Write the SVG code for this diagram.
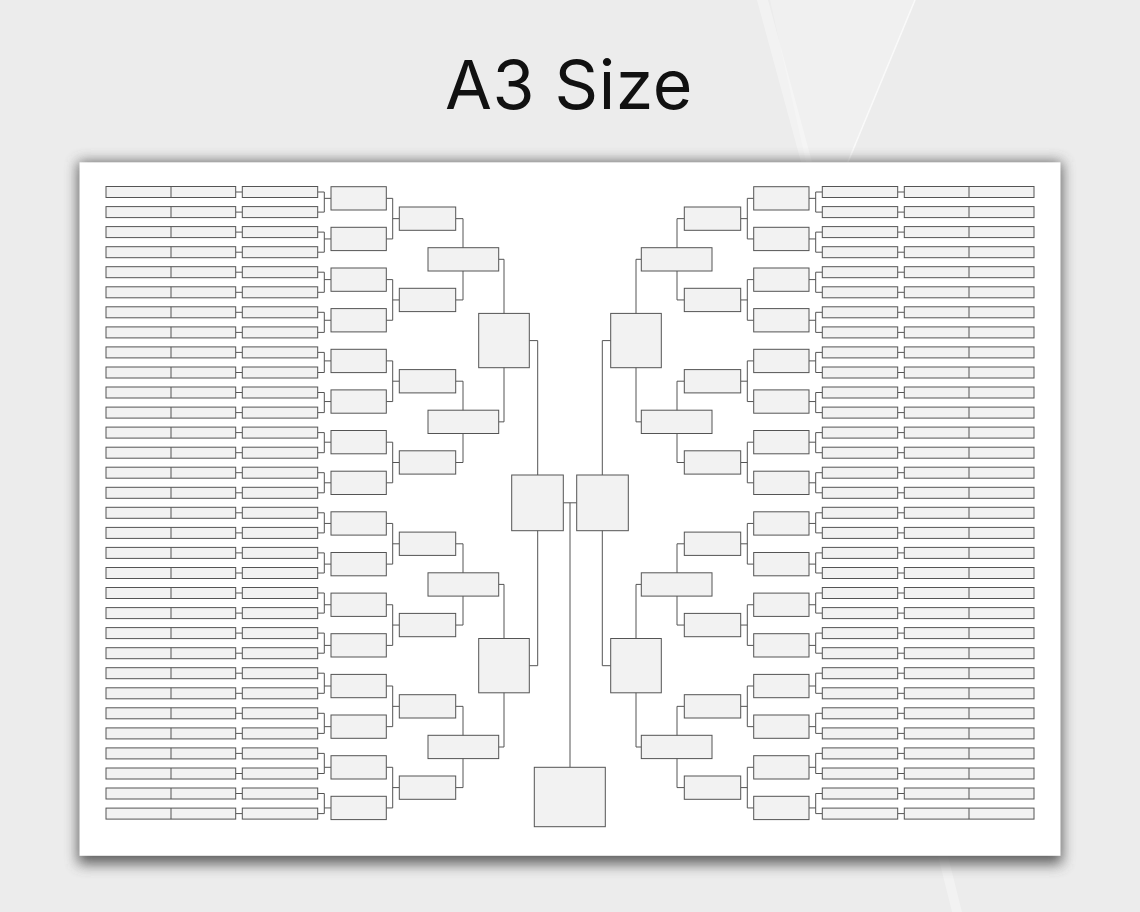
<svg xmlns="http://www.w3.org/2000/svg" width="1140" height="912" viewBox="0 0 1140 912">
<style>
.b{fill:#f2f2f2;stroke:#545454;stroke-width:1}
.c{fill:none;stroke:#545454;stroke-width:1}
.title{font-family:Inter,"Liberation Sans",sans-serif;font-size:68px;fill:#111;letter-spacing:0.5px}
</style>
<defs>
<filter id="sh" x="-10%" y="-10%" width="120%" height="125%"><feGaussianBlur stdDeviation="7"/></filter>
</defs>
<rect x="0" y="0" width="1140" height="912" fill="#ececec"/>
<polygon points="770,0 915,0 848,162 806,162" fill="#ffffff" opacity="0.22"/>
<polygon points="757,0 768,0 812,162 801,162" fill="#ffffff" opacity="0.35"/>
<line x1="915" y1="0" x2="848" y2="162" stroke="#ffffff" stroke-width="1.5" opacity="0.7"/>
<polygon points="938,856 948,856 962,912 952,912" fill="#ffffff" opacity="0.3"/>
<text class="title" x="569" y="109" text-anchor="middle">A3 Size</text>
<rect x="78" y="162" width="984" height="702" fill="#505050" opacity="0.9" filter="url(#sh)"/>
<rect x="79.5" y="162.3" width="981" height="693.5" fill="#ffffff"/>
<g id="connectors">
<path class="c" d="M235.7 192H242.3M235.7 212.1H242.3M235.7 232.1H242.3M235.7 252.2H242.3M235.7 272.2H242.3M235.7 292.3H242.3M235.7 312.3H242.3M235.7 332.4H242.3M235.7 352.4H242.3M235.7 372.5H242.3M235.7 392.5H242.3M235.7 412.6H242.3M235.7 432.6H242.3M235.7 452.7H242.3M235.7 472.7H242.3M235.7 492.8H242.3M235.7 512.8H242.3M235.7 532.9H242.3M235.7 552.9H242.3M235.7 573H242.3M235.7 593H242.3M235.7 613.1H242.3M235.7 633.1H242.3M235.7 653.2H242.3M235.7 673.2H242.3M235.7 693.3H242.3M235.7 713.3H242.3M235.7 733.4H242.3M235.7 753.4H242.3M235.7 773.5H242.3M235.7 793.5H242.3M235.7 813.6H242.3"/>
<path class="c" d="M897.7 192H904.3M897.7 212.1H904.3M897.7 232.1H904.3M897.7 252.2H904.3M897.7 272.2H904.3M897.7 292.3H904.3M897.7 312.3H904.3M897.7 332.4H904.3M897.7 352.4H904.3M897.7 372.5H904.3M897.7 392.5H904.3M897.7 412.6H904.3M897.7 432.6H904.3M897.7 452.7H904.3M897.7 472.7H904.3M897.7 492.8H904.3M897.7 512.8H904.3M897.7 532.9H904.3M897.7 552.9H904.3M897.7 573H904.3M897.7 593H904.3M897.7 613.1H904.3M897.7 633.1H904.3M897.7 653.2H904.3M897.7 673.2H904.3M897.7 693.3H904.3M897.7 713.3H904.3M897.7 733.4H904.3M897.7 753.4H904.3M897.7 773.5H904.3M897.7 793.5H904.3M897.7 813.6H904.3"/>
<path class="c" d="M317.7 192H324.3V212.1H317.7M324.3 198.35H331M317.7 232.1H324.3V252.2H317.7M324.3 238.95H331M317.7 272.2H324.3V292.3H317.7M324.3 279.6H331M317.7 312.3H324.3V332.4H317.7M324.3 320.25H331M317.7 352.4H324.3V372.5H317.7M324.3 360.9H331M317.7 392.5H324.3V412.6H317.7M324.3 401.55H331M317.7 432.6H324.3V452.7H317.7M324.3 442.2H331M317.7 472.7H324.3V492.8H317.7M324.3 482.8H331M317.7 512.8H324.3V532.9H317.7M324.3 523.45H331M317.7 552.9H324.3V573H317.7M324.3 564.1H331M317.7 593H324.3V613.1H317.7M324.3 604.75H331M317.7 633.1H324.3V653.2H317.7M324.3 645.4H331M317.7 673.2H324.3V693.3H317.7M324.3 686H331M317.7 713.3H324.3V733.4H317.7M324.3 726.65H331M317.7 753.4H324.3V773.5H317.7M324.3 767.3H331M317.7 793.5H324.3V813.6H317.7M324.3 807.95H331"/>
<path class="c" d="M822.3 192H815.7V212.1H822.3M815.7 198.35H809M822.3 232.1H815.7V252.2H822.3M815.7 238.95H809M822.3 272.2H815.7V292.3H822.3M815.7 279.6H809M822.3 312.3H815.7V332.4H822.3M815.7 320.25H809M822.3 352.4H815.7V372.5H822.3M815.7 360.9H809M822.3 392.5H815.7V412.6H822.3M815.7 401.55H809M822.3 432.6H815.7V452.7H822.3M815.7 442.2H809M822.3 472.7H815.7V492.8H822.3M815.7 482.8H809M822.3 512.8H815.7V532.9H822.3M815.7 523.45H809M822.3 552.9H815.7V573H822.3M815.7 564.1H809M822.3 593H815.7V613.1H822.3M815.7 604.75H809M822.3 633.1H815.7V653.2H822.3M815.7 645.4H809M822.3 673.2H815.7V693.3H822.3M815.7 686H809M822.3 713.3H815.7V733.4H822.3M815.7 726.65H809M822.3 753.4H815.7V773.5H822.3M815.7 767.3H809M822.3 793.5H815.7V813.6H822.3M815.7 807.95H809"/>
<path class="c" d="M386.3 198.35H392.7V238.95H386.3M392.7 218.65H399.3M386.3 279.6H392.7V320.25H386.3M392.7 299.95H399.3M386.3 360.9H392.7V401.55H386.3M392.7 381.2H399.3M386.3 442.2H392.7V482.8H386.3M392.7 462.5H399.3M386.3 523.45H392.7V564.1H386.3M392.7 543.8H399.3M386.3 604.75H392.7V645.4H386.3M392.7 625.05H399.3M386.3 686H392.7V726.65H386.3M392.7 706.35H399.3M386.3 767.3H392.7V807.95H386.3M392.7 787.6H399.3"/>
<path class="c" d="M753.7 198.35H747.3V238.95H753.7M747.3 218.65H740.7M753.7 279.6H747.3V320.25H753.7M747.3 299.95H740.7M753.7 360.9H747.3V401.55H753.7M747.3 381.2H740.7M753.7 442.2H747.3V482.8H753.7M747.3 462.5H740.7M753.7 523.45H747.3V564.1H753.7M747.3 543.8H740.7M753.7 604.75H747.3V645.4H753.7M747.3 625.05H740.7M753.7 686H747.3V726.65H753.7M747.3 706.35H740.7M753.7 767.3H747.3V807.95H753.7M747.3 787.6H740.7"/>
<path class="c" d="M455.7 218.65H463V299.95H455.7M455.7 381.2H463V462.5H455.7M455.7 543.8H463V625.05H455.7M455.7 706.35H463V787.6H455.7"/>
<path class="c" d="M684.3 218.65H677V299.95H684.3M684.3 381.2H677V462.5H684.3M684.3 543.8H677V625.05H684.3M684.3 706.35H677V787.6H684.3"/>
<path class="c" d="M498.7 259.3H504V421.85H498.7M498.7 584.4H504V747H498.7"/>
<path class="c" d="M641.3 259.3H636V421.85H641.3M641.3 584.4H636V747H641.3"/>
<path class="c" d="M529.3 340.6H537.7V665.7H529.3"/>
<path class="c" d="M610.7 340.6H602.3V665.7H610.7"/>
<path class="c" d="M563.3 502.8H576.7M570 502.8V767.3"/>
</g>
<g id="left-r1">
<g id="L1-0"><rect class="b" x="106" y="186.5" width="129.7" height="11"/><path class="c" d="M171 186.5v11"/></g>
<g id="L1-1"><rect class="b" x="106" y="206.6" width="129.7" height="11"/><path class="c" d="M171 206.6v11"/></g>
<g id="L1-2"><rect class="b" x="106" y="226.6" width="129.7" height="11"/><path class="c" d="M171 226.6v11"/></g>
<g id="L1-3"><rect class="b" x="106" y="246.7" width="129.7" height="11"/><path class="c" d="M171 246.7v11"/></g>
<g id="L1-4"><rect class="b" x="106" y="266.7" width="129.7" height="11"/><path class="c" d="M171 266.7v11"/></g>
<g id="L1-5"><rect class="b" x="106" y="286.8" width="129.7" height="11"/><path class="c" d="M171 286.8v11"/></g>
<g id="L1-6"><rect class="b" x="106" y="306.8" width="129.7" height="11"/><path class="c" d="M171 306.8v11"/></g>
<g id="L1-7"><rect class="b" x="106" y="326.9" width="129.7" height="11"/><path class="c" d="M171 326.9v11"/></g>
<g id="L1-8"><rect class="b" x="106" y="346.9" width="129.7" height="11"/><path class="c" d="M171 346.9v11"/></g>
<g id="L1-9"><rect class="b" x="106" y="367" width="129.7" height="11"/><path class="c" d="M171 367v11"/></g>
<g id="L1-10"><rect class="b" x="106" y="387" width="129.7" height="11"/><path class="c" d="M171 387v11"/></g>
<g id="L1-11"><rect class="b" x="106" y="407.1" width="129.7" height="11"/><path class="c" d="M171 407.1v11"/></g>
<g id="L1-12"><rect class="b" x="106" y="427.1" width="129.7" height="11"/><path class="c" d="M171 427.1v11"/></g>
<g id="L1-13"><rect class="b" x="106" y="447.2" width="129.7" height="11"/><path class="c" d="M171 447.2v11"/></g>
<g id="L1-14"><rect class="b" x="106" y="467.2" width="129.7" height="11"/><path class="c" d="M171 467.2v11"/></g>
<g id="L1-15"><rect class="b" x="106" y="487.3" width="129.7" height="11"/><path class="c" d="M171 487.3v11"/></g>
<g id="L1-16"><rect class="b" x="106" y="507.3" width="129.7" height="11"/><path class="c" d="M171 507.3v11"/></g>
<g id="L1-17"><rect class="b" x="106" y="527.4" width="129.7" height="11"/><path class="c" d="M171 527.4v11"/></g>
<g id="L1-18"><rect class="b" x="106" y="547.4" width="129.7" height="11"/><path class="c" d="M171 547.4v11"/></g>
<g id="L1-19"><rect class="b" x="106" y="567.5" width="129.7" height="11"/><path class="c" d="M171 567.5v11"/></g>
<g id="L1-20"><rect class="b" x="106" y="587.5" width="129.7" height="11"/><path class="c" d="M171 587.5v11"/></g>
<g id="L1-21"><rect class="b" x="106" y="607.6" width="129.7" height="11"/><path class="c" d="M171 607.6v11"/></g>
<g id="L1-22"><rect class="b" x="106" y="627.6" width="129.7" height="11"/><path class="c" d="M171 627.6v11"/></g>
<g id="L1-23"><rect class="b" x="106" y="647.7" width="129.7" height="11"/><path class="c" d="M171 647.7v11"/></g>
<g id="L1-24"><rect class="b" x="106" y="667.7" width="129.7" height="11"/><path class="c" d="M171 667.7v11"/></g>
<g id="L1-25"><rect class="b" x="106" y="687.8" width="129.7" height="11"/><path class="c" d="M171 687.8v11"/></g>
<g id="L1-26"><rect class="b" x="106" y="707.8" width="129.7" height="11"/><path class="c" d="M171 707.8v11"/></g>
<g id="L1-27"><rect class="b" x="106" y="727.9" width="129.7" height="11"/><path class="c" d="M171 727.9v11"/></g>
<g id="L1-28"><rect class="b" x="106" y="747.9" width="129.7" height="11"/><path class="c" d="M171 747.9v11"/></g>
<g id="L1-29"><rect class="b" x="106" y="768" width="129.7" height="11"/><path class="c" d="M171 768v11"/></g>
<g id="L1-30"><rect class="b" x="106" y="788" width="129.7" height="11"/><path class="c" d="M171 788v11"/></g>
<g id="L1-31"><rect class="b" x="106" y="808.1" width="129.7" height="11"/><path class="c" d="M171 808.1v11"/></g>
</g>
<g id="left-r2">
<g id="L2-0"><rect class="b" x="242.3" y="186.5" width="75.4" height="11"/></g>
<g id="L2-1"><rect class="b" x="242.3" y="206.6" width="75.4" height="11"/></g>
<g id="L2-2"><rect class="b" x="242.3" y="226.6" width="75.4" height="11"/></g>
<g id="L2-3"><rect class="b" x="242.3" y="246.7" width="75.4" height="11"/></g>
<g id="L2-4"><rect class="b" x="242.3" y="266.7" width="75.4" height="11"/></g>
<g id="L2-5"><rect class="b" x="242.3" y="286.8" width="75.4" height="11"/></g>
<g id="L2-6"><rect class="b" x="242.3" y="306.8" width="75.4" height="11"/></g>
<g id="L2-7"><rect class="b" x="242.3" y="326.9" width="75.4" height="11"/></g>
<g id="L2-8"><rect class="b" x="242.3" y="346.9" width="75.4" height="11"/></g>
<g id="L2-9"><rect class="b" x="242.3" y="367" width="75.4" height="11"/></g>
<g id="L2-10"><rect class="b" x="242.3" y="387" width="75.4" height="11"/></g>
<g id="L2-11"><rect class="b" x="242.3" y="407.1" width="75.4" height="11"/></g>
<g id="L2-12"><rect class="b" x="242.3" y="427.1" width="75.4" height="11"/></g>
<g id="L2-13"><rect class="b" x="242.3" y="447.2" width="75.4" height="11"/></g>
<g id="L2-14"><rect class="b" x="242.3" y="467.2" width="75.4" height="11"/></g>
<g id="L2-15"><rect class="b" x="242.3" y="487.3" width="75.4" height="11"/></g>
<g id="L2-16"><rect class="b" x="242.3" y="507.3" width="75.4" height="11"/></g>
<g id="L2-17"><rect class="b" x="242.3" y="527.4" width="75.4" height="11"/></g>
<g id="L2-18"><rect class="b" x="242.3" y="547.4" width="75.4" height="11"/></g>
<g id="L2-19"><rect class="b" x="242.3" y="567.5" width="75.4" height="11"/></g>
<g id="L2-20"><rect class="b" x="242.3" y="587.5" width="75.4" height="11"/></g>
<g id="L2-21"><rect class="b" x="242.3" y="607.6" width="75.4" height="11"/></g>
<g id="L2-22"><rect class="b" x="242.3" y="627.6" width="75.4" height="11"/></g>
<g id="L2-23"><rect class="b" x="242.3" y="647.7" width="75.4" height="11"/></g>
<g id="L2-24"><rect class="b" x="242.3" y="667.7" width="75.4" height="11"/></g>
<g id="L2-25"><rect class="b" x="242.3" y="687.8" width="75.4" height="11"/></g>
<g id="L2-26"><rect class="b" x="242.3" y="707.8" width="75.4" height="11"/></g>
<g id="L2-27"><rect class="b" x="242.3" y="727.9" width="75.4" height="11"/></g>
<g id="L2-28"><rect class="b" x="242.3" y="747.9" width="75.4" height="11"/></g>
<g id="L2-29"><rect class="b" x="242.3" y="768" width="75.4" height="11"/></g>
<g id="L2-30"><rect class="b" x="242.3" y="788" width="75.4" height="11"/></g>
<g id="L2-31"><rect class="b" x="242.3" y="808.1" width="75.4" height="11"/></g>
</g>
<g id="right-r1">
<g id="R1-0"><rect class="b" x="904.3" y="186.5" width="129.7" height="11"/><path class="c" d="M969 186.5v11"/></g>
<g id="R1-1"><rect class="b" x="904.3" y="206.6" width="129.7" height="11"/><path class="c" d="M969 206.6v11"/></g>
<g id="R1-2"><rect class="b" x="904.3" y="226.6" width="129.7" height="11"/><path class="c" d="M969 226.6v11"/></g>
<g id="R1-3"><rect class="b" x="904.3" y="246.7" width="129.7" height="11"/><path class="c" d="M969 246.7v11"/></g>
<g id="R1-4"><rect class="b" x="904.3" y="266.7" width="129.7" height="11"/><path class="c" d="M969 266.7v11"/></g>
<g id="R1-5"><rect class="b" x="904.3" y="286.8" width="129.7" height="11"/><path class="c" d="M969 286.8v11"/></g>
<g id="R1-6"><rect class="b" x="904.3" y="306.8" width="129.7" height="11"/><path class="c" d="M969 306.8v11"/></g>
<g id="R1-7"><rect class="b" x="904.3" y="326.9" width="129.7" height="11"/><path class="c" d="M969 326.9v11"/></g>
<g id="R1-8"><rect class="b" x="904.3" y="346.9" width="129.7" height="11"/><path class="c" d="M969 346.9v11"/></g>
<g id="R1-9"><rect class="b" x="904.3" y="367" width="129.7" height="11"/><path class="c" d="M969 367v11"/></g>
<g id="R1-10"><rect class="b" x="904.3" y="387" width="129.7" height="11"/><path class="c" d="M969 387v11"/></g>
<g id="R1-11"><rect class="b" x="904.3" y="407.1" width="129.7" height="11"/><path class="c" d="M969 407.1v11"/></g>
<g id="R1-12"><rect class="b" x="904.3" y="427.1" width="129.7" height="11"/><path class="c" d="M969 427.1v11"/></g>
<g id="R1-13"><rect class="b" x="904.3" y="447.2" width="129.7" height="11"/><path class="c" d="M969 447.2v11"/></g>
<g id="R1-14"><rect class="b" x="904.3" y="467.2" width="129.7" height="11"/><path class="c" d="M969 467.2v11"/></g>
<g id="R1-15"><rect class="b" x="904.3" y="487.3" width="129.7" height="11"/><path class="c" d="M969 487.3v11"/></g>
<g id="R1-16"><rect class="b" x="904.3" y="507.3" width="129.7" height="11"/><path class="c" d="M969 507.3v11"/></g>
<g id="R1-17"><rect class="b" x="904.3" y="527.4" width="129.7" height="11"/><path class="c" d="M969 527.4v11"/></g>
<g id="R1-18"><rect class="b" x="904.3" y="547.4" width="129.7" height="11"/><path class="c" d="M969 547.4v11"/></g>
<g id="R1-19"><rect class="b" x="904.3" y="567.5" width="129.7" height="11"/><path class="c" d="M969 567.5v11"/></g>
<g id="R1-20"><rect class="b" x="904.3" y="587.5" width="129.7" height="11"/><path class="c" d="M969 587.5v11"/></g>
<g id="R1-21"><rect class="b" x="904.3" y="607.6" width="129.7" height="11"/><path class="c" d="M969 607.6v11"/></g>
<g id="R1-22"><rect class="b" x="904.3" y="627.6" width="129.7" height="11"/><path class="c" d="M969 627.6v11"/></g>
<g id="R1-23"><rect class="b" x="904.3" y="647.7" width="129.7" height="11"/><path class="c" d="M969 647.7v11"/></g>
<g id="R1-24"><rect class="b" x="904.3" y="667.7" width="129.7" height="11"/><path class="c" d="M969 667.7v11"/></g>
<g id="R1-25"><rect class="b" x="904.3" y="687.8" width="129.7" height="11"/><path class="c" d="M969 687.8v11"/></g>
<g id="R1-26"><rect class="b" x="904.3" y="707.8" width="129.7" height="11"/><path class="c" d="M969 707.8v11"/></g>
<g id="R1-27"><rect class="b" x="904.3" y="727.9" width="129.7" height="11"/><path class="c" d="M969 727.9v11"/></g>
<g id="R1-28"><rect class="b" x="904.3" y="747.9" width="129.7" height="11"/><path class="c" d="M969 747.9v11"/></g>
<g id="R1-29"><rect class="b" x="904.3" y="768" width="129.7" height="11"/><path class="c" d="M969 768v11"/></g>
<g id="R1-30"><rect class="b" x="904.3" y="788" width="129.7" height="11"/><path class="c" d="M969 788v11"/></g>
<g id="R1-31"><rect class="b" x="904.3" y="808.1" width="129.7" height="11"/><path class="c" d="M969 808.1v11"/></g>
</g>
<g id="right-r2">
<g id="R2-0"><rect class="b" x="822.3" y="186.5" width="75.4" height="11"/></g>
<g id="R2-1"><rect class="b" x="822.3" y="206.6" width="75.4" height="11"/></g>
<g id="R2-2"><rect class="b" x="822.3" y="226.6" width="75.4" height="11"/></g>
<g id="R2-3"><rect class="b" x="822.3" y="246.7" width="75.4" height="11"/></g>
<g id="R2-4"><rect class="b" x="822.3" y="266.7" width="75.4" height="11"/></g>
<g id="R2-5"><rect class="b" x="822.3" y="286.8" width="75.4" height="11"/></g>
<g id="R2-6"><rect class="b" x="822.3" y="306.8" width="75.4" height="11"/></g>
<g id="R2-7"><rect class="b" x="822.3" y="326.9" width="75.4" height="11"/></g>
<g id="R2-8"><rect class="b" x="822.3" y="346.9" width="75.4" height="11"/></g>
<g id="R2-9"><rect class="b" x="822.3" y="367" width="75.4" height="11"/></g>
<g id="R2-10"><rect class="b" x="822.3" y="387" width="75.4" height="11"/></g>
<g id="R2-11"><rect class="b" x="822.3" y="407.1" width="75.4" height="11"/></g>
<g id="R2-12"><rect class="b" x="822.3" y="427.1" width="75.4" height="11"/></g>
<g id="R2-13"><rect class="b" x="822.3" y="447.2" width="75.4" height="11"/></g>
<g id="R2-14"><rect class="b" x="822.3" y="467.2" width="75.4" height="11"/></g>
<g id="R2-15"><rect class="b" x="822.3" y="487.3" width="75.4" height="11"/></g>
<g id="R2-16"><rect class="b" x="822.3" y="507.3" width="75.4" height="11"/></g>
<g id="R2-17"><rect class="b" x="822.3" y="527.4" width="75.4" height="11"/></g>
<g id="R2-18"><rect class="b" x="822.3" y="547.4" width="75.4" height="11"/></g>
<g id="R2-19"><rect class="b" x="822.3" y="567.5" width="75.4" height="11"/></g>
<g id="R2-20"><rect class="b" x="822.3" y="587.5" width="75.4" height="11"/></g>
<g id="R2-21"><rect class="b" x="822.3" y="607.6" width="75.4" height="11"/></g>
<g id="R2-22"><rect class="b" x="822.3" y="627.6" width="75.4" height="11"/></g>
<g id="R2-23"><rect class="b" x="822.3" y="647.7" width="75.4" height="11"/></g>
<g id="R2-24"><rect class="b" x="822.3" y="667.7" width="75.4" height="11"/></g>
<g id="R2-25"><rect class="b" x="822.3" y="687.8" width="75.4" height="11"/></g>
<g id="R2-26"><rect class="b" x="822.3" y="707.8" width="75.4" height="11"/></g>
<g id="R2-27"><rect class="b" x="822.3" y="727.9" width="75.4" height="11"/></g>
<g id="R2-28"><rect class="b" x="822.3" y="747.9" width="75.4" height="11"/></g>
<g id="R2-29"><rect class="b" x="822.3" y="768" width="75.4" height="11"/></g>
<g id="R2-30"><rect class="b" x="822.3" y="788" width="75.4" height="11"/></g>
<g id="R2-31"><rect class="b" x="822.3" y="808.1" width="75.4" height="11"/></g>
</g>
<g id="left-r3">
<g id="L3-0"><rect class="b" x="331" y="186.7" width="55.3" height="23.3"/></g>
<g id="L3-1"><rect class="b" x="331" y="227.3" width="55.3" height="23.3"/></g>
<g id="L3-2"><rect class="b" x="331" y="268" width="55.3" height="23.3"/></g>
<g id="L3-3"><rect class="b" x="331" y="308.6" width="55.3" height="23.3"/></g>
<g id="L3-4"><rect class="b" x="331" y="349.3" width="55.3" height="23.3"/></g>
<g id="L3-5"><rect class="b" x="331" y="389.9" width="55.3" height="23.3"/></g>
<g id="L3-6"><rect class="b" x="331" y="430.5" width="55.3" height="23.3"/></g>
<g id="L3-7"><rect class="b" x="331" y="471.2" width="55.3" height="23.3"/></g>
<g id="L3-8"><rect class="b" x="331" y="511.8" width="55.3" height="23.3"/></g>
<g id="L3-9"><rect class="b" x="331" y="552.5" width="55.3" height="23.3"/></g>
<g id="L3-10"><rect class="b" x="331" y="593.1" width="55.3" height="23.3"/></g>
<g id="L3-11"><rect class="b" x="331" y="633.7" width="55.3" height="23.3"/></g>
<g id="L3-12"><rect class="b" x="331" y="674.4" width="55.3" height="23.3"/></g>
<g id="L3-13"><rect class="b" x="331" y="715" width="55.3" height="23.3"/></g>
<g id="L3-14"><rect class="b" x="331" y="755.7" width="55.3" height="23.3"/></g>
<g id="L3-15"><rect class="b" x="331" y="796.3" width="55.3" height="23.3"/></g>
</g>
<g id="right-r3">
<g id="R3-0"><rect class="b" x="753.7" y="186.7" width="55.3" height="23.3"/></g>
<g id="R3-1"><rect class="b" x="753.7" y="227.3" width="55.3" height="23.3"/></g>
<g id="R3-2"><rect class="b" x="753.7" y="268" width="55.3" height="23.3"/></g>
<g id="R3-3"><rect class="b" x="753.7" y="308.6" width="55.3" height="23.3"/></g>
<g id="R3-4"><rect class="b" x="753.7" y="349.3" width="55.3" height="23.3"/></g>
<g id="R3-5"><rect class="b" x="753.7" y="389.9" width="55.3" height="23.3"/></g>
<g id="R3-6"><rect class="b" x="753.7" y="430.5" width="55.3" height="23.3"/></g>
<g id="R3-7"><rect class="b" x="753.7" y="471.2" width="55.3" height="23.3"/></g>
<g id="R3-8"><rect class="b" x="753.7" y="511.8" width="55.3" height="23.3"/></g>
<g id="R3-9"><rect class="b" x="753.7" y="552.5" width="55.3" height="23.3"/></g>
<g id="R3-10"><rect class="b" x="753.7" y="593.1" width="55.3" height="23.3"/></g>
<g id="R3-11"><rect class="b" x="753.7" y="633.7" width="55.3" height="23.3"/></g>
<g id="R3-12"><rect class="b" x="753.7" y="674.4" width="55.3" height="23.3"/></g>
<g id="R3-13"><rect class="b" x="753.7" y="715" width="55.3" height="23.3"/></g>
<g id="R3-14"><rect class="b" x="753.7" y="755.7" width="55.3" height="23.3"/></g>
<g id="R3-15"><rect class="b" x="753.7" y="796.3" width="55.3" height="23.3"/></g>
</g>
<g id="left-r4">
<g id="L4-0"><rect class="b" x="399.3" y="207" width="56.4" height="23.3"/></g>
<g id="L4-1"><rect class="b" x="399.3" y="288.3" width="56.4" height="23.3"/></g>
<g id="L4-2"><rect class="b" x="399.3" y="369.6" width="56.4" height="23.3"/></g>
<g id="L4-3"><rect class="b" x="399.3" y="450.8" width="56.4" height="23.3"/></g>
<g id="L4-4"><rect class="b" x="399.3" y="532.1" width="56.4" height="23.3"/></g>
<g id="L4-5"><rect class="b" x="399.3" y="613.4" width="56.4" height="23.3"/></g>
<g id="L4-6"><rect class="b" x="399.3" y="694.7" width="56.4" height="23.3"/></g>
<g id="L4-7"><rect class="b" x="399.3" y="776" width="56.4" height="23.3"/></g>
</g>
<g id="right-r4">
<g id="R4-0"><rect class="b" x="684.3" y="207" width="56.4" height="23.3"/></g>
<g id="R4-1"><rect class="b" x="684.3" y="288.3" width="56.4" height="23.3"/></g>
<g id="R4-2"><rect class="b" x="684.3" y="369.6" width="56.4" height="23.3"/></g>
<g id="R4-3"><rect class="b" x="684.3" y="450.8" width="56.4" height="23.3"/></g>
<g id="R4-4"><rect class="b" x="684.3" y="532.1" width="56.4" height="23.3"/></g>
<g id="R4-5"><rect class="b" x="684.3" y="613.4" width="56.4" height="23.3"/></g>
<g id="R4-6"><rect class="b" x="684.3" y="694.7" width="56.4" height="23.3"/></g>
<g id="R4-7"><rect class="b" x="684.3" y="776" width="56.4" height="23.3"/></g>
</g>
<g id="left-r5">
<g id="L5-0"><rect class="b" x="428" y="247.7" width="70.7" height="23.3"/></g>
<g id="L5-1"><rect class="b" x="428" y="410.2" width="70.7" height="23.3"/></g>
<g id="L5-2"><rect class="b" x="428" y="572.8" width="70.7" height="23.3"/></g>
<g id="L5-3"><rect class="b" x="428" y="735.3" width="70.7" height="23.3"/></g>
</g>
<g id="right-r5">
<g id="R5-0"><rect class="b" x="641.3" y="247.7" width="70.7" height="23.3"/></g>
<g id="R5-1"><rect class="b" x="641.3" y="410.2" width="70.7" height="23.3"/></g>
<g id="R5-2"><rect class="b" x="641.3" y="572.8" width="70.7" height="23.3"/></g>
<g id="R5-3"><rect class="b" x="641.3" y="735.3" width="70.7" height="23.3"/></g>
</g>
<g id="L6-0"><rect class="b" x="478.7" y="313.4" width="50.6" height="54.3"/></g>
<g id="L6-1"><rect class="b" x="478.7" y="638.5" width="50.6" height="54.3"/></g>
<g id="R6-0"><rect class="b" x="610.7" y="313.4" width="50.6" height="54.3"/></g>
<g id="R6-1"><rect class="b" x="610.7" y="638.5" width="50.6" height="54.3"/></g>
<g id="semi-left"><rect class="b" x="511.7" y="475" width="51.6" height="55.7"/></g>
<g id="semi-right"><rect class="b" x="576.7" y="475" width="51.6" height="55.7"/></g>
<g id="final"><rect class="b" x="534.3" y="767.3" width="71" height="59.4"/></g>
</svg>
